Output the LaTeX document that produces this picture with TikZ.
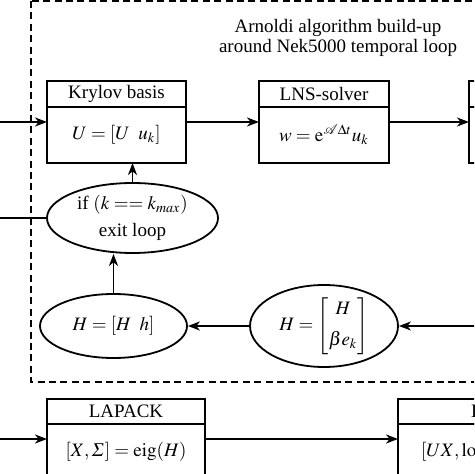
\documentclass[tikz,border=0pt]{standalone}
\usepackage{amsmath}
\usepackage{mathptmx}
\usepackage{fontspec}
\setmainfont{Liberation Serif}
\usetikzlibrary{positioning,shapes.geometric,arrows.meta}

\begin{document}
\begin{tikzpicture}[
x=0.5pt,
y=-0.5pt,
every node/.style={
  font=\fontsize{9.5}{10.5}\selectfont
  },
head/.style={
  draw,
  line width=0.9pt,
  minimum height=13pt,
  inner sep=0pt,
  outer sep=0pt,
  anchor=north west
  },
body/.style={
  draw,
  line width=0.9pt,
  minimum height=28pt,
  inner sep=0pt,
  outer sep=0pt
  },
oval/.style={
  draw,
  ellipse,
  line width=0.9pt,
  inner sep=0pt,
  align=center
  },
frame/.style={
  draw,
  line width=0.9pt,
  dash pattern=on 3.5pt off 2.2pt
  },
link/.style={
  ->,
  line width=0.9pt
  },
>={Stealth[length=6pt,width=4.5pt,inset=1.8pt]}
]
\useasboundingbox (0,0) rectangle (474,474);
\clip (0,0) rectangle (474,474);

% dashed loop frame
\draw[frame] (31,1) rectangle (640,382);
\node[align=center, font=\fontsize{9.5}{10}\selectfont] (title) at (338,38)
  {Arnoldi algorithm build-up\\around Nek5000 temporal loop};

% boxes
\node[head, minimum width=69.5pt] (kryh) at (47,81) {Krylov basis};
\node[body, minimum width=69.5pt, below=0pt of kryh] (kry) {$U=[U\;\;u_k]$};
\node[head, minimum width=65pt] (lnsh) at (259,81) {LNS-solver};
\node[body, minimum width=65pt, below=0pt of lnsh] (lns)
  {$w=\mathrm{e}^{\mathcal{A}\Delta t}u_k$};
\node[head, minimum width=69.5pt] (nxth) at (469,81) {};
\node[body, minimum width=69.5pt, below=0pt of nxth] (nxt) {};
\node[head, minimum width=79pt, minimum height=12.5pt] (laph) at (47,399) {LAPACK};
\node[body, minimum width=79pt, below=0pt of laph] (lap)
  {$[X,\varSigma]=\mathrm{eig}(H)$};
\node[head, minimum height=12.5pt, text width=80pt, align=left, inner xsep=36.5pt]
  (resh) at (398,399) {L};
\node[body, text width=130pt, align=left, inner xsep=11.5pt, below=0pt of resh]
  (res) {$[UX,\log$};

% ellipses
\node[oval, minimum width=85.5pt, minimum height=35pt] (exit) at (132.5,218)
  {if $(k==k_{max})$\\[3pt]exit loop};
\node[oval, minimum width=73.5pt, minimum height=32pt] (hh) at (113.5,326)
  {$H=[H\;\;h]$};
\node[oval, minimum width=74pt, minimum height=41pt] (hb) at (324,326)
  {$H=\begin{bmatrix}H\\[5pt]\beta e_k\end{bmatrix}$};

\coordinate (top) at (0,122);
\coordinate (bot) at (0,439);
\coordinate (in) at (490,326);

\draw[link] (top) -- (top -| kry.west);
\draw[link] (top -| kry.east) -- (top -| lns.west);
\draw[link] (top -| lns.east) -- (top -| nxt.west);
\draw[link] (exit.north) -- (exit.north |- kry.south);
\draw[line width=0.9pt] (exit.west) -- (exit.west -| top);
\draw[link] (hh.north) -- (hh.north |- exit.south);
\draw[link] (hb.west) -- (hh.east);
\draw[link] (in) -- (hb.east);
\draw[link] (bot) -- (bot -| lap.west);
\draw[link] (bot -| lap.east) -- (bot -| res.west);
\end{tikzpicture}
\end{document}
